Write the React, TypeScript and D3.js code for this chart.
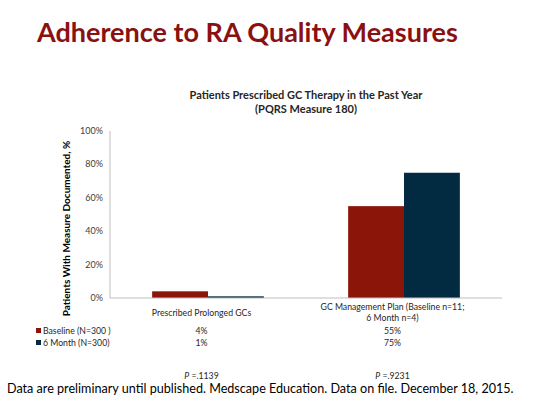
import React from "react";
import * as d3 from "d3";

const categories = ["Prescribed Prolonged GCs", "GC Management Plan"];
const categoryLines = [["Prescribed Prolonged GCs"], ["GC Management Plan (Baseline n=11;", "6 Month n=4)"]];
const seriesNames = ["Baseline (N=300 )", "6 Month (N=300)"];
const baselineValues = [4, 55];
const sixMonthValues = [1, 75];
const pValues = [".1139", ".9231"];
const yTicks = [0, 20, 40, 60, 80, 100];

const colors = ["#8B1508", "#022A40"];
const font = "Lato, 'Open Sans', sans-serif";

const App = () => {
  const width = 540;
  const height = 405;
  const plot = { left: 110, right: 502, top: 131, bottom: 298 };

  const x = d3.scaleBand().domain(categories).range([plot.left, plot.right]);
  // data table columns sit slightly left of the bar groups
  const tableX = d3.scaleBand().domain(categories).range([106, 488]);
  const y = d3.scaleLinear().domain([0, 100]).range([plot.bottom, plot.top]);
  const inner = d3.scaleBand().domain(seriesNames).range([0, x.bandwidth() * 0.57]);
  const offset = (x.bandwidth() - x.bandwidth() * 0.57) / 2;

  const series = [baselineValues, sixMonthValues];
  const colX = (ci: number) => (tableX(categories[ci]) ?? 0) + tableX.bandwidth() / 2;

  return (
    <svg width={width} height={height} style={{ position: "absolute", left: 0, top: 0, background: "#fff" }}>
      <text x={37} y={42} fontFamily={font} fontWeight={700} fontSize={27} fill="#8B1010">
        Adherence to RA Quality Measures
      </text>

      <text textAnchor="middle" fontFamily={font} fontWeight={700} fontSize={11} fill="#262626">
        <tspan x={306} y={99}>Patients Prescribed GC Therapy in the Past Year</tspan>
        <tspan x={306} y={113}>(PQRS Measure 180)</tspan>
      </text>

      <text
        transform={`translate(70, ${(plot.top + plot.bottom) / 2 + 14}) rotate(-90)`}
        textAnchor="middle"
        fontFamily={font}
        fontWeight={700}
        fontSize={10}
        fill="#000"
      >
        Patients With Measure Documented, %
      </text>

      {yTicks.map((t) => (
        <text key={t} x={103} y={y(t) + 3} textAnchor="end" fontFamily={font} fontSize={9} fill="#404040">
          {t}%
        </text>
      ))}

      {series.map((vals, si) =>
        vals.map((v, ci) => (
          <rect
            key={`${si}-${ci}`}
            x={(x(categories[ci]) ?? 0) + offset + (inner(seriesNames[si]) ?? 0)}
            y={y(v)}
            width={inner.bandwidth()}
            height={y(0) - y(v)}
            fill={colors[si]}
          />
        ))
      )}

      <line x1={plot.left} x2={plot.left} y1={plot.top} y2={plot.bottom} stroke="#BFBFBF" />
      <line x1={plot.left} x2={plot.right} y1={plot.bottom} y2={plot.bottom} stroke="#BFBFBF" />

      {categoryLines.map((lines, ci) => (
        <text key={ci} textAnchor="middle" fontFamily={font} fontSize={8.7} fill="#262626">
          {lines.map((l, li) => (
            <tspan key={li} x={colX(ci)} y={(lines.length > 1 ? 310 : 316) + li * 11}>
              {l}
            </tspan>
          ))}
        </text>
      ))}

      {seriesNames.map((name, si) => (
        <g key={name}>
          <rect x={36} y={328 + si * 12} width={5} height={5} fill={colors[si]} />
          <text x={43} y={334 + si * 12} fontFamily={font} fontSize={8.7} fill="#262626">
            {name}
          </text>
          {series[si].map((v, ci) => (
            <text key={ci} x={colX(ci)} y={334 + si * 12} textAnchor="middle" fontFamily={font} fontSize={8.7} fill="#262626">
              {v}%
            </text>
          ))}
        </g>
      ))}

      {pValues.map((p, ci) => (
        <text key={ci} x={colX(ci)} y={379} textAnchor="middle" fontFamily={font} fontSize={8.7} fill="#262626">
          <tspan fontStyle="italic">P</tspan> ={p}
        </text>
      ))}

      <text x={7} y={393} fontFamily={font} fontSize={12.6} fill="#000">
        Data are preliminary until published. Medscape Education. Data on file. December 18, 2015.
      </text>
    </svg>
  );
};

export default App;
